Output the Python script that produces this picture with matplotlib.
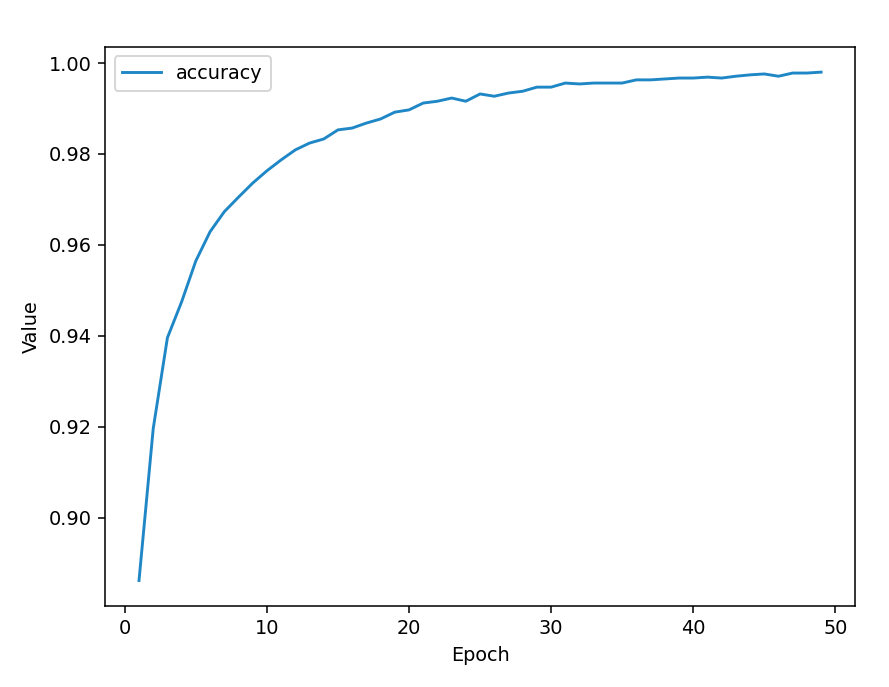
import matplotlib
matplotlib.use("Agg")
import matplotlib.pyplot as plt

epochs = list(range(1, 50))
accuracy = [0.8862, 0.9196, 0.9396, 0.9475, 0.9565, 0.9629, 0.9673, 0.9705, 0.9736, 0.9763,
            0.9787, 0.9809, 0.9824, 0.9833, 0.9853, 0.9857, 0.9868, 0.9877, 0.9892, 0.9897,
            0.9912, 0.9916, 0.9923, 0.9916, 0.9932, 0.9927, 0.9934, 0.9938, 0.9947, 0.9947,
            0.9956, 0.9954, 0.9956, 0.9956, 0.9956, 0.9963, 0.9963, 0.9965, 0.9967, 0.9967,
            0.9969, 0.9967, 0.9971, 0.9974, 0.9976, 0.9971, 0.9978, 0.9978, 0.9980]

fig = plt.figure(figsize=(889 / 139, 687 / 139), dpi=139)
ax = fig.add_axes([0.118, 0.118, 0.844, 0.814])
ax.plot(epochs, accuracy, color='#1f87c6', label='accuracy')
ax.set_xlabel("Epoch")
ax.set_ylabel("Value")
ax.set_xticks([0, 10, 20, 30, 40, 50])
ax.legend(loc='upper left')
fig.savefig("out.png", dpi=139)
